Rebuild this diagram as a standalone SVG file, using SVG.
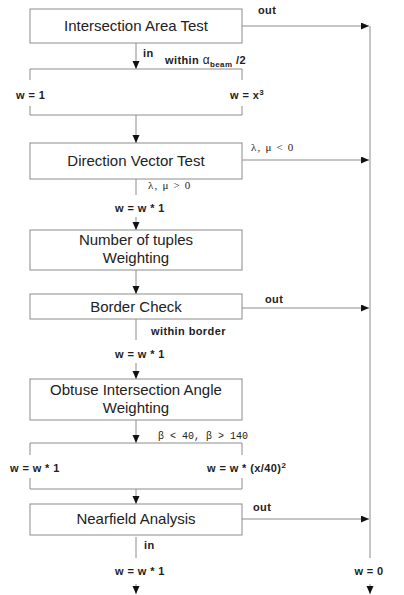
<svg xmlns="http://www.w3.org/2000/svg" width="404" height="595" viewBox="0 0 404 595">
<style>
.box{fill:#fff;stroke:#8c8c8c;stroke-width:1}
.ln{fill:none;stroke:#8c8c8c;stroke-width:1}
.t{font-family:"Liberation Sans",Arial,sans-serif;font-size:15px;fill:#222;text-anchor:middle}
.b{font-family:"Liberation Sans",Arial,sans-serif;font-size:11px;font-weight:bold;fill:#222;letter-spacing:0.4px}
.g{font-family:"Liberation Serif","DejaVu Serif",serif;font-size:11px;fill:#222;letter-spacing:1.2px}
.m{font-family:"Liberation Mono","DejaVu Sans Mono",monospace;font-size:10px;fill:#222}
</style>
<defs>
<marker id="ah" markerUnits="userSpaceOnUse" markerWidth="9" markerHeight="8" refX="8" refY="3.5" orient="auto">
<path d="M0,0 L8,3.5 L0,7 z" fill="#111"/>
</marker>
</defs>
<rect width="404" height="595" fill="#fff"/>
<g id="connectors">
<line class="ln" x1="242" y1="26" x2="369" y2="26" marker-end="url(#ah)"/>
<line class="ln" x1="370" y1="26" x2="370" y2="558"/>
<line class="ln" x1="136" y1="43" x2="136" y2="69" marker-end="url(#ah)"/>
<line class="ln" x1="136" y1="115" x2="136" y2="143" marker-end="url(#ah)"/>
<line class="ln" x1="242" y1="160" x2="369" y2="160" marker-end="url(#ah)"/>
<line class="ln" x1="136" y1="179" x2="136" y2="195"/>
<line class="ln" x1="136" y1="217" x2="136" y2="230" marker-end="url(#ah)"/>
<line class="ln" x1="136" y1="270" x2="136" y2="294" marker-end="url(#ah)"/>
<line class="ln" x1="242" y1="308" x2="369" y2="308" marker-end="url(#ah)"/>
<line class="ln" x1="136" y1="319" x2="136" y2="340"/>
<line class="ln" x1="136" y1="363" x2="136" y2="379" marker-end="url(#ah)"/>
<line class="ln" x1="136" y1="420" x2="136" y2="443" marker-end="url(#ah)"/>
<line class="ln" x1="136" y1="489" x2="136" y2="504" marker-end="url(#ah)"/>
<line class="ln" x1="242" y1="519" x2="369" y2="519" marker-end="url(#ah)"/>
<line class="ln" x1="136" y1="537" x2="136" y2="558"/>
<line class="ln" x1="136" y1="584" x2="136" y2="594" marker-end="url(#ah)"/>
<line class="ln" x1="370" y1="584" x2="370" y2="594" marker-end="url(#ah)"/>
</g>
<g id="n1">
<rect class="box" x="30" y="9" width="212" height="34"/>
<text class="t" x="136" y="31">Intersection Area Test</text>
</g>
<g id="bracket1">
<path class="ln" d="M30,80 V69 H242 V80 M30,106 V115 H242 V106"/>
<text class="b" x="16" y="99">w = 1</text>
<text class="b" x="230" y="99">w = x<tspan font-size="8" dy="-4">3</tspan></text>
</g>
<g id="n2">
<rect class="box" x="30" y="143" width="212" height="36"/>
<text class="t" x="136" y="166">Direction Vector Test</text>
</g>
<g id="n3">
<rect class="box" x="30" y="230" width="212" height="40"/>
<text class="t" x="136" y="245">Number of tuples</text>
<text class="t" x="136" y="263">Weighting</text>
</g>
<g id="n4">
<rect class="box" x="30" y="294" width="212" height="25"/>
<text class="t" x="136" y="312">Border Check</text>
</g>
<g id="n5">
<rect class="box" x="30" y="379" width="212" height="41"/>
<text class="t" x="136" y="395">Obtuse Intersection Angle</text>
<text class="t" x="136" y="413">Weighting</text>
</g>
<g id="bracket2">
<path class="ln" d="M30,455 V443 H242 V455 M30,478 V489 H242 V478"/>
<text class="b" x="10" y="472">w = w * 1</text>
<text class="b" x="207" y="472">w = w * (x/40)<tspan font-size="8" dy="-4">2</tspan></text>
</g>
<g id="n6">
<rect class="box" x="30" y="504" width="212" height="31"/>
<text class="t" x="136" y="524">Nearfield Analysis</text>
</g>
<g id="labels">
<text class="b" x="258" y="14">out</text>
<text class="b" x="143" y="57">in</text>
<text class="b" x="165" y="64">within <tspan font-weight="normal" font-size="12">α</tspan><tspan font-size="8" dy="3">beam</tspan><tspan dy="-3"> /2</tspan></text>
<text class="g" x="251" y="151">λ, μ &lt; 0</text>
<text class="g" x="148" y="189">λ, μ &gt; 0</text>
<text class="b" x="140" y="212" text-anchor="middle">w = w * 1</text>
<text class="b" x="265" y="303">out</text>
<text class="b" x="151" y="335">within border</text>
<text class="b" x="140" y="358" text-anchor="middle">w = w * 1</text>
<text class="m" x="158" y="439">β &lt; 40, β &gt; 140</text>
<text class="b" x="253" y="511">out</text>
<text class="b" x="144" y="549">in</text>
<text class="b" x="140" y="575" text-anchor="middle">w = w * 1</text>
<text class="b" x="369" y="575" text-anchor="middle">w = 0</text>
</g>
</svg>
